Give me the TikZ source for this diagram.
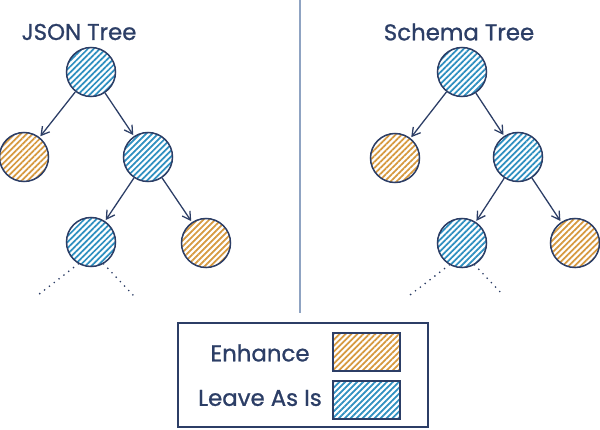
\documentclass[tikz,border=0pt]{standalone}
\usepackage{fontspec}
\setmainfont{Poppins}[FakeBold=1]
\usepackage{tikz}
\usetikzlibrary{positioning,arrows.meta,patterns.meta}

\definecolor{ink}{HTML}{2C3E66}
\definecolor{keep}{HTML}{2E8FC0}
\definecolor{enh}{HTML}{D6993F}
\definecolor{rule}{HTML}{8FA3C2}

\newlength{\pxu}
\setlength{\pxu}{0.3mm}
\tikzset{
  tnode/.style={circle, draw=ink, line width=1.3pt, minimum size=49\pxu, inner sep=0pt},
  hatch/.style={pattern={Lines[angle=45,distance=3.6pt,line width=1.5pt]}, pattern color=#1},
  leave/.style={tnode, hatch=keep},
  enhance/.style={tnode, hatch=enh},
  swatch/.style={draw=ink, line width=1.3pt, minimum width=67\pxu, minimum height=38\pxu, inner sep=0pt, hatch=#1},
  link/.style={-{Straight Barb[length=2.4mm,width=2.8mm]}, draw=ink, line width=1.1pt, shorten >=1pt},
  more/.style={draw=ink, line width=1.6pt, line cap=round, dash pattern=on 0pt off 5.2pt},
  title/.style={text=ink, font=\fontsize{19.5}{22}\selectfont},
}

\begin{document}
\begin{tikzpicture}[x=0.3mm,y=-0.3mm]
  \useasboundingbox (0,0) rectangle (600,429);

  % divider
  \draw[rule, line width=1.6pt] (300,0) -- (300,313);

  % JSON tree
  \node[title] (jt) at (79,32) {JSON Tree};
  \node[leave]   (jroot) at (91,72)  {};
  \node[enhance] (jl)    at (24,157) {};
  \node[leave]   (jr)    at (148,157) {};
  \node[leave]   (jrl)   at (91,242) {};
  \node[enhance] (jrr)   at (206,243) {};

  \draw[link] (jroot) -- (jl);
  \draw[link] (jroot) -- (jr);
  \draw[link] (jr) -- (jrl);
  \draw[link] (jr) -- (jrr);

  \coordinate (jd1) at (38,295);
  \coordinate (jd2) at (133,295);
  \draw[more] (jrl.240) -- (jd1);
  \draw[more] (jrl.300) -- (jd2);

  % Schema tree
  \node[title] (st) at (459,32) {Schema Tree};
  \node[leave]   (sroot) at (462,72)  {};
  \node[enhance] (sl)    at (395,158) {};
  \node[leave]   (sr)    at (518,157) {};
  \node[leave]   (srl)   at (462,243) {};
  \node[enhance] (srr)   at (575,243) {};

  \draw[link] (sroot) -- (sl);
  \draw[link] (sroot) -- (sr);
  \draw[link] (sr) -- (srl);
  \draw[link] (sr) -- (srr);

  \coordinate (sd1) at (410,295);
  \coordinate (sd2) at (503,295);
  \draw[more] (srl.240) -- (sd1);
  \draw[more] (srl.300) -- (sd2);

  % legend
  \node[draw=ink, line width=1.3pt, minimum width=250\pxu, minimum height=104\pxu] (key) at (303,375) {};
  \node[title] (enhtxt) at (260,353) {Enhance};
  \node[title] (lvtxt)  at (260,398) {Leave As Is};
  \node[swatch=enh]  (enhbox) at (366.5,352) {};
  \node[swatch=keep] (lvbox)  at (366.5,400) {};
\end{tikzpicture}
\end{document}
